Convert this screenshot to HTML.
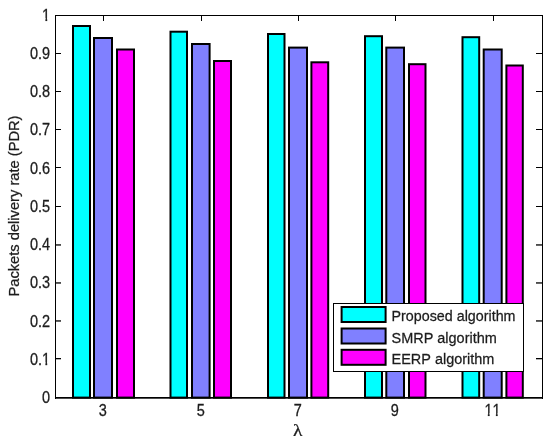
<!DOCTYPE html><html><head><meta charset="utf-8"><title>PDR</title><style>html,body{margin:0;padding:0;background:#fff}svg{display:block}text{font-family:"Liberation Sans",sans-serif;font-size:29.0px;fill:#1c1c1c;stroke:#1c1c1c;stroke-width:0.5px;font-kerning:none}</style></head><body>
<svg width="550" height="443" viewBox="0 0 550 443">
<rect width="550" height="443" fill="#fff"/>
<defs><clipPath id="c1" clipPathUnits="userSpaceOnUse"><path d="M-2 -32H18V-4.6H10.3V2H6.8V-4.6H-2Z"/></clipPath><clipPath id="c11" clipPathUnits="userSpaceOnUse"><path d="M-2 -32H35V-4.6H26.43V2H22.93V-4.6H10.3V2H6.8V-4.6H-2Z"/></clipPath><clipPath id="c01" clipPathUnits="userSpaceOnUse"><path d="M-45 -32H2V-4.6H-5.82V2H-9.32V-4.6H-14.3V6H-45Z"/></clipPath></defs>
<g shape-rendering="crispEdges">
<rect x="55" y="15" width="488" height="1" fill="#000"/>
<rect x="55" y="15" width="1" height="383.5" fill="#000"/>
<rect x="542" y="15" width="1" height="383.5" fill="#000"/>
<rect x="55" y="206" width="6" height="1" fill="#000"/>
<rect x="536" y="206" width="7" height="1" fill="#000"/>
<rect x="55" y="167" width="6" height="1" fill="#000"/>
<rect x="536" y="167" width="7" height="1" fill="#000"/>
<rect x="55" y="129" width="6" height="1" fill="#000"/>
<rect x="536" y="129" width="7" height="1" fill="#000"/>
<rect x="55" y="91" width="6" height="1" fill="#000"/>
<rect x="536" y="91" width="7" height="1" fill="#000"/>
<rect x="55" y="53" width="6" height="1" fill="#000"/>
<rect x="536" y="53" width="7" height="1" fill="#000"/>
<rect x="55" y="15" width="6" height="1" fill="#000"/>
<rect x="536" y="15" width="7" height="1" fill="#000"/>
<rect x="103" y="15" width="1" height="6" fill="#000"/>
<rect x="103" y="392" width="1" height="6" fill="#000"/>
<rect x="201" y="15" width="1" height="6" fill="#000"/>
<rect x="201" y="392" width="1" height="6" fill="#000"/>
<rect x="298" y="15" width="1" height="6" fill="#000"/>
<rect x="298" y="392" width="1" height="6" fill="#000"/>
<rect x="395" y="15" width="1" height="6" fill="#000"/>
<rect x="395" y="392" width="1" height="6" fill="#000"/>
<rect x="493" y="15" width="1" height="6" fill="#000"/>
<rect x="493" y="392" width="1" height="6" fill="#000"/>
</g>
<rect x="55" y="397" width="488" height="1.7" fill="#000"/>
<rect x="55" y="358" width="6" height="1.3" fill="#000"/>
<rect x="536" y="358" width="7" height="1.3" fill="#000"/>
<rect x="55" y="320.3" width="6" height="1.3" fill="#000"/>
<rect x="536" y="320.3" width="7" height="1.3" fill="#000"/>
<rect x="55" y="282.3" width="6" height="1.3" fill="#000"/>
<rect x="536" y="282.3" width="7" height="1.3" fill="#000"/>
<rect x="55" y="244.3" width="6" height="1.3" fill="#000"/>
<rect x="536" y="244.3" width="7" height="1.3" fill="#000"/>
<rect x="72" y="25" width="19" height="373.6" fill="#000"/>
<rect x="74" y="27" width="15" height="369.6" fill="#00ffff"/>
<rect x="93" y="37" width="20" height="361.6" fill="#000"/>
<rect x="95" y="39" width="16" height="357.6" fill="#8080ff"/>
<rect x="116" y="48.5" width="19" height="350.1" fill="#000"/>
<rect x="118" y="50.5" width="15" height="346.1" fill="#ff00ff"/>
<rect x="169.5" y="30.7" width="18.5" height="367.9" fill="#000"/>
<rect x="171.5" y="32.7" width="14.5" height="363.9" fill="#00ffff"/>
<rect x="191" y="43" width="19.6" height="355.6" fill="#000"/>
<rect x="193" y="45" width="15.6" height="351.6" fill="#8080ff"/>
<rect x="213" y="60" width="19" height="338.6" fill="#000"/>
<rect x="215" y="62" width="15" height="334.6" fill="#ff00ff"/>
<rect x="267" y="33" width="18.5" height="365.6" fill="#000"/>
<rect x="269" y="35" width="14.5" height="361.6" fill="#00ffff"/>
<rect x="288" y="46.6" width="20" height="352.0" fill="#000"/>
<rect x="290" y="48.6" width="16" height="348.0" fill="#8080ff"/>
<rect x="310.4" y="61.3" width="18.8" height="337.3" fill="#000"/>
<rect x="312.4" y="63.3" width="14.8" height="333.3" fill="#ff00ff"/>
<rect x="364" y="35.2" width="19" height="363.4" fill="#000"/>
<rect x="366" y="37.2" width="15" height="359.4" fill="#00ffff"/>
<rect x="385.3" y="46.6" width="19.7" height="352.0" fill="#000"/>
<rect x="387.3" y="48.6" width="15.7" height="348.0" fill="#8080ff"/>
<rect x="408" y="63.2" width="18.5" height="335.4" fill="#000"/>
<rect x="410" y="65.2" width="14.5" height="331.4" fill="#ff00ff"/>
<rect x="461.5" y="36.2" width="18.7" height="362.4" fill="#000"/>
<rect x="463.5" y="38.2" width="14.7" height="358.4" fill="#00ffff"/>
<rect x="482.7" y="48.5" width="20.0" height="350.1" fill="#000"/>
<rect x="484.7" y="50.5" width="16.0" height="346.1" fill="#8080ff"/>
<rect x="505.4" y="64.5" width="18.4" height="334.1" fill="#000"/>
<rect x="507.4" y="66.5" width="14.4" height="330.1" fill="#ff00ff"/>
<text transform="translate(50.1,403.0) scale(0.5,0.540)" text-anchor="end">0</text>
<text transform="translate(50.1,364.75) scale(0.5,0.540)" text-anchor="end" clip-path="url(#c01)">0.1</text>
<text transform="translate(50.1,326.5) scale(0.5,0.540)" text-anchor="end">0.2</text>
<text transform="translate(50.1,288.25) scale(0.5,0.540)" text-anchor="end">0.3</text>
<text transform="translate(50.1,250.0) scale(0.5,0.540)" text-anchor="end">0.4</text>
<text transform="translate(50.1,211.75) scale(0.5,0.540)" text-anchor="end">0.5</text>
<text transform="translate(50.1,173.5) scale(0.5,0.540)" text-anchor="end">0.6</text>
<text transform="translate(50.1,135.25) scale(0.5,0.540)" text-anchor="end">0.7</text>
<text transform="translate(50.1,97.0) scale(0.5,0.540)" text-anchor="end">0.8</text>
<text transform="translate(50.1,58.75) scale(0.5,0.540)" text-anchor="end">0.9</text>
<text transform="translate(42.04,20.5) scale(0.5,0.540)" text-anchor="start" clip-path="url(#c1)">1</text>
<text transform="translate(102.9,415.5) scale(0.5,0.550)" text-anchor="middle">3</text>
<text transform="translate(200.9,415.5) scale(0.5,0.550)" text-anchor="middle">5</text>
<text transform="translate(297.9,415.5) scale(0.5,0.550)" text-anchor="middle">7</text>
<text transform="translate(394.9,415.5) scale(0.5,0.550)" text-anchor="middle">9</text>
<text transform="translate(484.44,415.5) scale(0.5,0.550)" text-anchor="start" clip-path="url(#c11)">11</text>
<text transform="translate(297.6,436.2) scale(1.18,1)" text-anchor="middle" style="font-family:'Liberation Serif',serif;font-size:16.5px;stroke-width:0.25px">λ</text>
<text transform="translate(19.2,206) rotate(-90) scale(0.5,0.51)" text-anchor="middle" textLength="362" lengthAdjust="spacingAndGlyphs">Packets delivery rate (PDR)</text>
<rect x="333" y="303" width="191" height="69" fill="#000"/>
<rect x="334" y="304" width="189" height="67" fill="#fff"/>
<rect x="340.6" y="306" width="46" height="17" fill="#000"/>
<rect x="342.6" y="308" width="42" height="13" fill="#00ffff"/>
<text transform="translate(391.5,321.3) scale(0.5,0.530)" text-anchor="start" textLength="248" lengthAdjust="spacingAndGlyphs">Proposed algorithm</text>
<rect x="340.6" y="327.5" width="46" height="17.0" fill="#000"/>
<rect x="342.6" y="329.5" width="42" height="13.0" fill="#8080ff"/>
<text transform="translate(391.5,342.8) scale(0.5,0.530)" text-anchor="start" textLength="210.6" lengthAdjust="spacingAndGlyphs">SMRP algorithm</text>
<rect x="340.6" y="348.8" width="46" height="17.0" fill="#000"/>
<rect x="342.6" y="350.8" width="42" height="13.0" fill="#ff00ff"/>
<text transform="translate(391.5,364.1) scale(0.5,0.530)" text-anchor="start" textLength="205.8" lengthAdjust="spacingAndGlyphs">EERP algorithm</text>
</svg></body></html>
